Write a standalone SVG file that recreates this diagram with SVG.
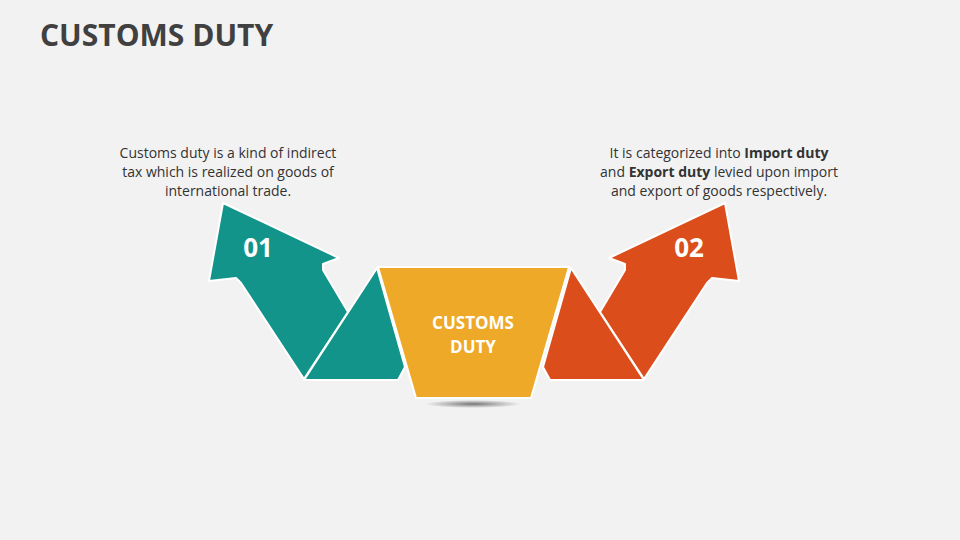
<svg xmlns="http://www.w3.org/2000/svg" width="960" height="540" viewBox="0 0 960 540">
<defs>
<style>
.t{font-family:"Open Sans","Liberation Sans",sans-serif;font-size:14px;fill:#333;text-anchor:middle}
.w{font-family:"Open Sans","Liberation Sans",sans-serif;font-weight:bold;fill:#fff;text-anchor:middle}
.s{stroke:#fff;stroke-width:2;stroke-linejoin:round}
</style>
<radialGradient id="sh"><stop offset="0" stop-color="#777"/><stop offset="1" stop-color="#777" stop-opacity="0"/></radialGradient>
</defs>
<rect width="960" height="540" fill="#f2f2f2"/>
<text x="40" y="46" font-family="Open Sans,Liberation Sans,sans-serif" font-weight="bold" font-size="30" fill="#404040">CUSTOMS DUTY</text>
<g id="text1">
<text class="t" x="228" y="158">Customs duty is a kind of indirect</text>
<text class="t" x="228" y="177">tax which is realized on goods of</text>
<text class="t" x="228" y="196">international trade.</text>
</g>
<g id="text2">
<text class="t" x="719" y="158">It is categorized into <tspan font-weight="bold">Import duty</tspan></text>
<text class="t" x="719" y="177">and <tspan font-weight="bold">Export duty</tspan> levied upon import</text>
<text class="t" x="719" y="196">and export of goods respectively.</text>
</g>
<g id="arrow1">
<path class="s" fill="#12948a" d="M223,203 L339,258 L323,264 L323,270 L348,312 L304,379 L241,283 L236,278 L209,281 Z"/>
<path class="s" fill="#12948a" d="M377,268 L405,367 L398,380 L304,380 Z"/>
<text class="w" x="258" y="257" font-size="26">01</text>
</g>
<g id="arrow2">
<path class="s" fill="#db4e1c" d="M725,203 L609,258 L625,264 L625,270 L600,312 L644,379 L707,283 L712,278 L739,281 Z"/>
<path class="s" fill="#db4e1c" d="M571,268 L543,367 L550,380 L644,380 Z"/>
<text class="w" x="689" y="257" font-size="26">02</text>
</g>
<g id="center">
<ellipse cx="473" cy="404" rx="48" ry="4" fill="url(#sh)"/>
<path class="s" fill="#eea928" d="M378,267 L569,267 L531,398 L416,398 Z"/>
<text class="w" x="473" y="329" font-size="17">CUSTOMS</text>
<text class="w" x="473" y="353" font-size="17">DUTY</text>
</g>
<g id="connectors"/>
</svg>
